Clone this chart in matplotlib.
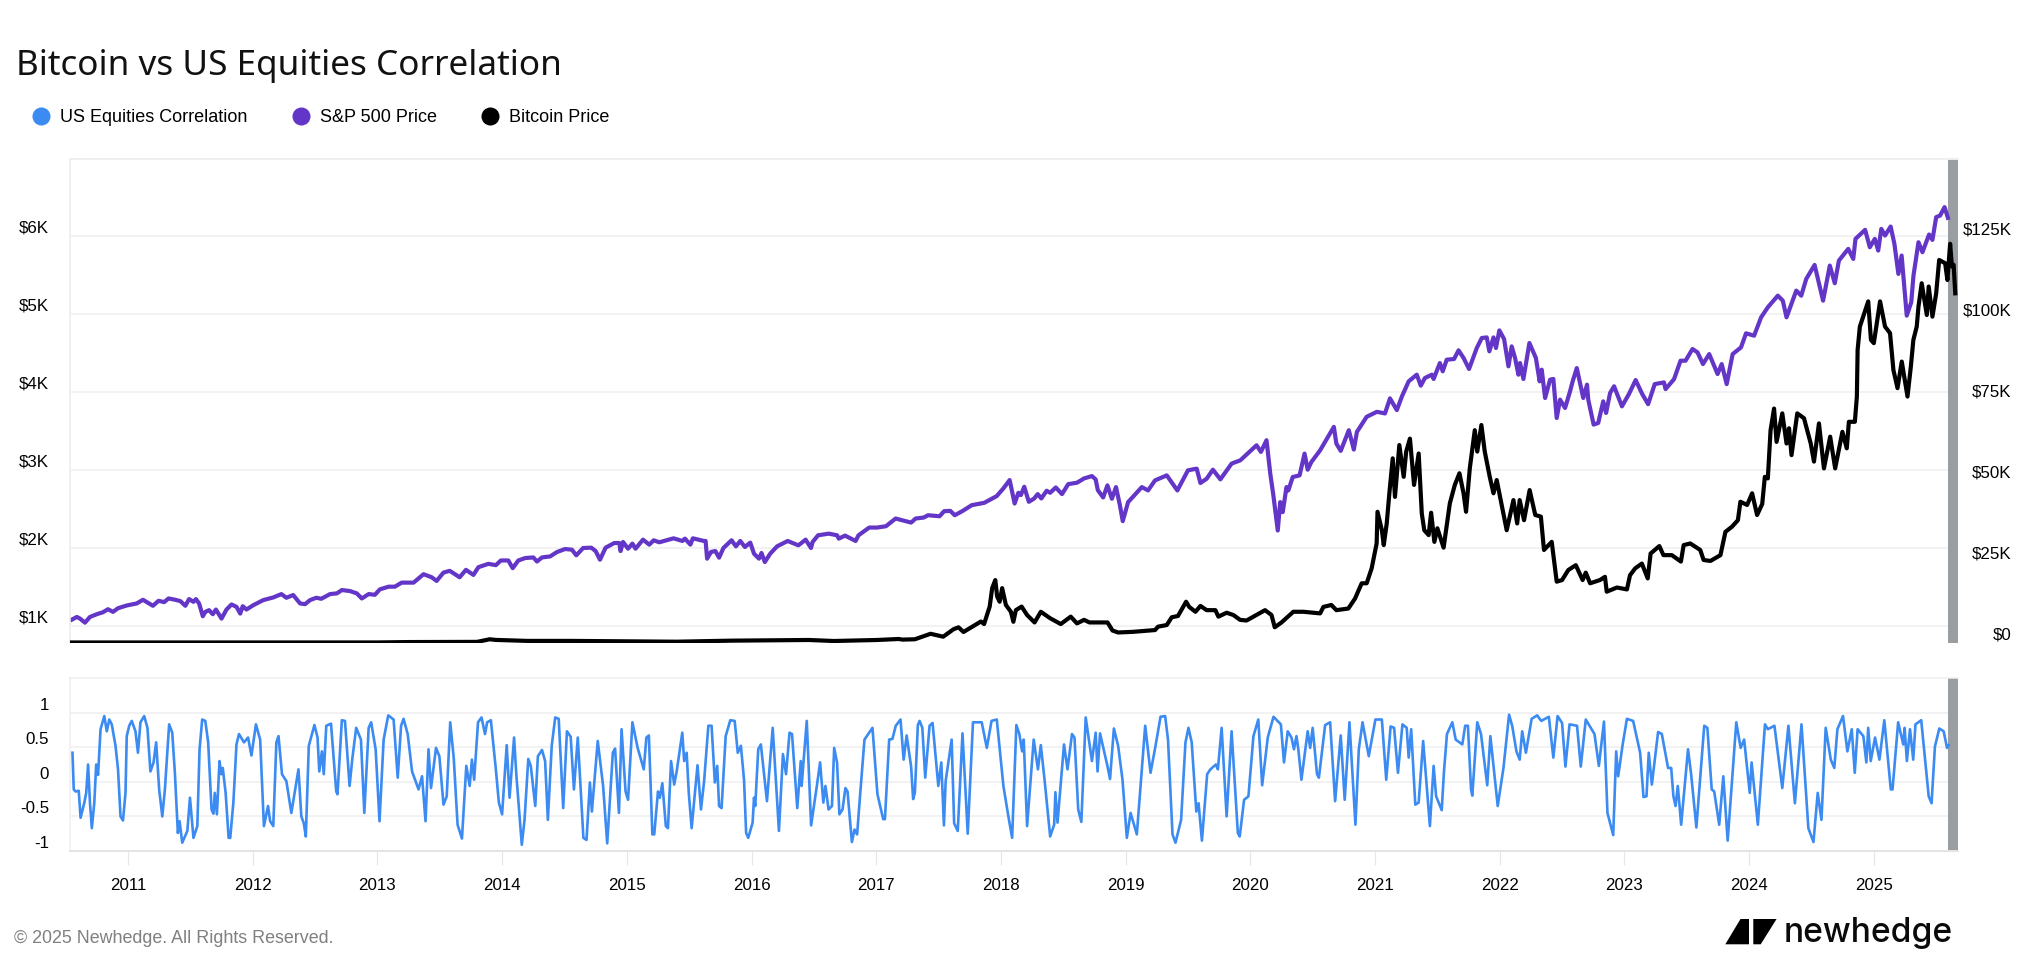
import matplotlib
matplotlib.use('Agg')
import matplotlib.pyplot as plt
from matplotlib.lines import Line2D
from matplotlib.patches import Polygon

W, H = 2025, 975

sp500 = [(2010.55,1082),(2010.59,1116),(2010.615,1095),(2010.655,1043),(2010.695,1116),(2010.75,1151),(2010.80,1177),(2010.84,1215),(2010.88,1181),(2010.92,1228),(2010.99,1263),
(2011.07,1289),(2011.12,1336),(2011.20,1259),(2011.245,1323),(2011.29,1306),(2011.325,1353),(2011.38,1336),(2011.42,1319),(2011.46,1259),(2011.49,1345),(2011.525,1310),(2011.545,1345),(2011.57,1289),(2011.60,1125),(2011.62,1181),(2011.65,1203),(2011.68,1151),(2011.705,1211),(2011.75,1095),(2011.79,1211),(2011.83,1276),(2011.87,1246),(2011.90,1159),(2011.92,1254),(2011.95,1211),
(2012.005,1267),(2012.085,1332),(2012.165,1366),(2012.23,1409),(2012.27,1362),(2012.325,1397),(2012.38,1289),(2012.42,1280),(2012.46,1332),(2012.51,1362),(2012.55,1349),(2012.62,1409),(2012.675,1418),(2012.715,1461),(2012.78,1448),(2012.835,1418),(2012.875,1353),(2012.93,1409),(2012.98,1400),
(2013.02,1470),(2013.09,1504),(2013.14,1504),(2013.195,1556),(2013.29,1556),(2013.37,1664),(2013.435,1625),(2013.475,1578),(2013.53,1685),(2013.58,1707),(2013.66,1625),(2013.71,1720),(2013.77,1655),(2013.81,1754),(2013.89,1797),(2013.95,1780),(2013.99,1840),
(2014.05,1840),(2014.085,1741),(2014.13,1840),(2014.185,1871),(2014.25,1879),(2014.28,1827),(2014.32,1879),(2014.385,1892),(2014.44,1948),(2014.505,1987),(2014.56,1978),(2014.595,1906),(2014.65,2000),(2014.715,2004),(2014.75,1961),(2014.785,1850),(2014.83,2004),(2014.90,2064),(2014.94,2064),(2014.95,1961),(2014.97,2077),
(2015.01,1991),(2015.045,2056),(2015.07,1991),(2015.13,2107),(2015.18,2043),(2015.216,2099),(2015.26,2073),(2015.375,2124),(2015.446,2090),(2015.466,2120),(2015.51,2043),(2015.53,2124),(2015.618,2090),(2015.632,2090),(2015.644,1863),(2015.675,1949),(2015.71,1961),(2015.74,1876),(2015.775,2000),(2015.84,2099),(2015.875,2021),(2015.91,2090),(2015.947,2013),(2015.99,2069),
(2016.02,1927),(2016.06,1863),(2016.08,1936),(2016.107,1820),(2016.15,1927),(2016.205,2021),(2016.29,2090),(2016.376,2034),(2016.434,2107),(2016.477,2000),(2016.49,2077),(2016.534,2163),(2016.62,2184),(2016.686,2163),(2016.70,2120),(2016.75,2159),(2016.835,2090),(2016.858,2163),(2016.944,2262),
(2017.007,2262),(2017.078,2279),(2017.156,2378),(2017.207,2356),(2017.28,2326),(2017.316,2378),(2017.38,2390),(2017.416,2420),(2017.508,2407),(2017.545,2472),(2017.594,2476),(2017.63,2420),(2017.694,2476),(2017.766,2549),(2017.866,2579),(2017.966,2665),
(2018.02,2764),(2018.07,2871),(2018.11,2570),(2018.14,2708),(2018.16,2678),(2018.187,2785),(2018.224,2592),(2018.267,2635),(2018.295,2691),(2018.324,2635),(2018.367,2734),(2018.395,2708),(2018.44,2776),(2018.49,2691),(2018.54,2819),(2018.61,2837),(2018.667,2892),(2018.73,2922),(2018.76,2879),(2018.777,2742),(2018.82,2648),(2018.854,2803),(2018.89,2631),(2018.923,2781),(2018.954,2549),(2018.977,2344),
(2019.02,2588),(2019.13,2781),(2019.18,2738),(2019.236,2867),(2019.33,2931),(2019.415,2738),(2019.50,2996),(2019.57,3017),(2019.60,2833),(2019.65,2888),(2019.70,3004),(2019.76,2880),(2019.85,3082),(2019.92,3124),
(2020.05,3317),(2020.085,3232),(2020.13,3382),(2020.16,2953),(2020.185,2674),(2020.20,2481),(2020.22,2224),(2020.24,2588),(2020.26,2460),(2020.29,2781),(2020.305,2738),(2020.34,2910),(2020.395,2931),(2020.435,3210),(2020.46,3004),(2020.49,3103),(2020.56,3253),(2020.67,3553),(2020.69,3339),(2020.725,3245),(2020.79,3510),(2020.83,3262),(2020.855,3489),(2020.933,3682),
(2021.015,3746),(2021.08,3725),(2021.12,3918),(2021.175,3768),(2021.215,3940),(2021.27,4137),(2021.335,4222),(2021.367,4081),(2021.40,4179),(2021.455,4222),(2021.47,4167),(2021.52,4371),(2021.543,4265),(2021.575,4414),(2021.634,4423),(2021.67,4534),(2021.71,4436),(2021.754,4295),(2021.816,4564),(2021.856,4692),(2021.896,4700),(2021.917,4521),(2021.95,4700),(2021.97,4564),(2021.997,4790),
(2022.035,4679),(2022.07,4329),(2022.096,4585),(2022.123,4436),(2022.15,4222),(2022.163,4371),(2022.19,4167),(2022.238,4628),(2022.29,4436),(2022.32,4137),(2022.337,4286),(2022.364,3923),(2022.404,4158),(2022.43,4167),(2022.457,3667),(2022.484,3902),(2022.524,3795),(2022.564,4009),(2022.585,4137),(2022.618,4307),(2022.67,3923),(2022.70,4094),(2022.71,3902),(2022.753,3582),(2022.79,3603),(2022.83,3880),(2022.853,3731),(2022.885,3987),(2022.917,4073),(2022.98,3816),
(2023.036,3973),(2023.09,4153),(2023.143,3973),(2023.19,3844),(2023.243,4101),(2023.317,4123),(2023.33,4037),(2023.398,4165),(2023.45,4401),(2023.49,4401),(2023.546,4551),(2023.586,4508),(2023.63,4358),(2023.68,4486),(2023.747,4230),(2023.78,4358),(2023.82,4101),(2023.868,4486),(2023.935,4572),(2023.975,4752),
(2024.04,4722),(2024.096,4957),(2024.15,5086),(2024.23,5235),(2024.27,5171),(2024.30,4957),(2024.378,5300),(2024.418,5235),(2024.458,5449),(2024.525,5629),(2024.593,5171),(2024.647,5621),(2024.687,5394),(2024.72,5685),(2024.795,5835),(2024.835,5706),(2024.853,5963),(2024.93,6079),(2024.968,5856),
(2025.008,5963),(2025.035,5813),(2025.06,6091),(2025.09,6006),(2025.135,6121),(2025.165,5899),(2025.197,5514),(2025.223,5749),(2025.264,4979),(2025.30,5150),(2025.318,5492),(2025.358,5920),(2025.39,5792),(2025.443,6019),(2025.47,5950),(2025.50,6241),(2025.532,6263),(2025.567,6370),(2025.594,6233)]

# bitcoin in thousands of dollars
btc = [(2010.54,0.01),(2012.0,0.01),(2013.0,0.02),(2013.25,0.14),(2013.8,0.2),(2013.9,1.0),(2013.95,0.8),(2014.2,0.5),(2014.544,0.5),(2015.4,0.25),(2015.83,0.57),(2016.46,0.78),(2016.66,0.47),(2017.007,0.78),(2017.18,1.09),(2017.21,0.9),(2017.31,1.0),(2017.436,2.7),(2017.537,1.8),(2017.62,4.1),(2017.66,4.7),(2017.70,3.25),(2017.78,5.1),(2017.84,6.5),(2017.865,5.7),(2017.91,11.1),(2017.93,16.8),(2017.955,19.3),(2017.97,14.2),(2017.99,12.6),
(2018.01,16.8),(2018.04,11.6),(2018.08,9.5),(2018.10,6.4),(2018.12,10),(2018.166,11.1),(2018.21,8.5),(2018.27,6.2),(2018.32,9.5),(2018.395,7.5),(2018.48,5.7),(2018.56,8),(2018.61,5.9),(2018.667,7),(2018.71,6.2),(2018.855,6.2),(2018.895,3.7),(2018.94,3.1),
(2019.06,3.3),(2019.236,3.85),(2019.26,4.9),(2019.33,5.4),(2019.37,7.8),(2019.42,8.2),(2019.485,12.6),(2019.51,11),(2019.56,9.5),(2019.6,11.3),(2019.65,10),(2019.72,10),(2019.744,8),(2019.81,9.2),(2019.864,8.5),(2019.918,7),(2019.97,6.8),
(2020.118,10),(2020.17,8.5),(2020.196,4.7),(2020.25,6.2),(2020.345,9.5),(2020.426,9.5),(2020.56,9),(2020.586,11),(2020.65,11.6),(2020.69,10),(2020.786,10.5),(2020.84,13.6),(2020.893,18.3),(2020.933,18.3),(2020.973,22.9),
(2021.013,30.6),(2021.02,40.4),(2021.055,34.7),(2021.07,30.1),(2021.094,36.8),(2021.115,46.1),(2021.142,56.9),(2021.16,45),(2021.195,61),(2021.23,51.2),(2021.25,59),(2021.28,63),(2021.313,48.7),(2021.35,58.4),(2021.375,39.9),(2021.395,34.7),(2021.43,33.2),(2021.45,40.1),(2021.476,31.1),(2021.5,35.3),(2021.55,29.3),(2021.6,43),(2021.64,48.7),(2021.677,52.3),(2021.71,46.1),(2021.73,40.4),(2021.76,53.8),(2021.80,65.6),(2021.82,59),(2021.853,67.2),(2021.88,59),(2021.92,51.2),(2021.95,46.1),(2021.976,50.2),
(2022.016,42.5),(2022.056,34.7),(2022.11,44),(2022.14,36.8),(2022.16,44),(2022.195,37.8),(2022.24,47.1),(2022.285,39.4),(2022.33,38.9),(2022.355,28.6),(2022.417,31.1),(2022.457,18.8),(2022.5,19.3),(2022.55,22.4),(2022.61,23.9),(2022.665,19.3),(2022.69,21.6),(2022.725,18.3),(2022.804,19.3),(2022.844,20.3),(2022.858,15.7),(2022.94,17),
(2023.02,16.4),(2023.045,20.8),(2023.086,22.9),(2023.14,24.4),(2023.187,19.8),(2023.21,27.5),(2023.28,29.8),(2023.313,27),(2023.38,27),(2023.453,25),(2023.475,30.1),(2023.528,30.6),(2023.608,28.6),(2023.635,25.5),(2023.69,25.2),(2023.77,27),(2023.81,34.2),(2023.863,35.8),(2023.91,37.8),(2023.93,43.5),(2023.984,42.5),
(2024.024,46.1),(2024.064,39.4),(2024.105,42.8),(2024.126,51.2),(2024.15,50.7),(2024.172,65.6),(2024.2,72.3),(2024.22,62),(2024.266,70.8),(2024.3,61.5),(2024.32,66.2),(2024.34,57.9),(2024.386,70.8),(2024.44,69.3),(2024.494,61.5),(2024.52,55.9),(2024.56,67.7),(2024.6,53.8),(2024.65,63.6),(2024.69,53.8),(2024.748,65.1),(2024.783,60),(2024.8,68.2),(2024.848,68.2),(2024.864,76),(2024.87,90.4),(2024.888,97.6),(2024.955,105.4),(2024.977,93.5),
(2025.0,92.5),(2025.05,105.4),(2025.09,97.6),(2025.13,95.6),(2025.157,84.2),(2025.19,78.6),(2025.224,86.8),(2025.27,76),(2025.297,85.3),(2025.317,93.5),(2025.344,97.6),(2025.358,103.8),(2025.384,111),(2025.425,101.2),(2025.44,110),(2025.47,100.7),(2025.5,107.9),(2025.524,118.2),(2025.572,117.2),(2025.59,112),(2025.612,123.2),(2025.626,116.2),(2025.64,116.7),(2025.653,107.9)]

corr = [(2010.555,.42),(2010.565,-.11),(2010.58,-.14),(2010.605,-.13),(2010.62,-.52),(2010.65,-.30),(2010.665,-.16),(2010.68,.25),(2010.695,-.30),(2010.71,-.67),(2010.73,-.30),(2010.745,.25),(2010.76,.10),(2010.78,.76),(2010.81,.95),(2010.83,.73),(2010.85,.90),(2010.87,.83),(2010.9,.52),(2010.92,.18),(2010.94,-.50),(2010.96,-.56),(2010.98,-.16),(2010.99,.66),
(2011.01,.81),(2011.03,.88),(2011.06,.73),(2011.08,.42),(2011.10,.86),(2011.13,.95),(2011.156,.78),(2011.18,.15),(2011.205,.28),(2011.226,.57),(2011.25,-.11),(2011.275,-.50),(2011.296,-.11),(2011.33,.83),(2011.355,.71),(2011.376,.13),(2011.40,-.74),(2011.414,-.57),(2011.435,-.88),(2011.476,-.71),(2011.497,-.23),(2011.525,-.81),(2011.556,-.64),(2011.574,.47),(2011.595,.90),(2011.62,.88),(2011.643,.57),(2011.67,-.40),(2011.685,-.46),(2011.696,-.16),(2011.713,-.47),(2011.734,.30),(2011.748,.11),(2011.76,.20),(2011.783,-.16),(2011.807,-.81),(2011.82,-.81),(2011.845,-.30),(2011.87,.54),(2011.89,.69),(2011.93,.57),(2011.963,.64),(2011.99,.38),
(2012.026,.83),(2012.06,.61),(2012.09,-.64),(2012.123,-.35),(2012.14,-.57),(2012.165,-.64),(2012.19,.57),(2012.207,.66),(2012.235,.11),(2012.27,.01),(2012.31,-.45),(2012.367,.18),(2012.39,-.50),(2012.41,-.60),(2012.426,-.79),(2012.45,.52),(2012.495,.82),(2012.52,.64),(2012.534,.15),(2012.555,.44),(2012.57,.11),(2012.59,.81),(2012.628,.84),(2012.67,-.14),(2012.68,-.18),(2012.715,.89),(2012.74,.88),(2012.777,-.06),(2012.8,.35),(2012.83,.78),(2012.868,.61),(2012.895,-.45),(2012.93,.78),(2012.95,.86),(2012.986,.47),
(2013.017,-.57),(2013.05,.61),(2013.087,.96),(2013.13,.90),(2013.163,.06),(2013.19,.81),(2013.21,.91),(2013.243,.69),(2013.278,.15),(2013.33,-.11),(2013.358,.08),(2013.386,-.57),(2013.41,.47),(2013.43,-.09),(2013.47,.49),(2013.497,.37),(2013.53,-.33),(2013.556,-.21),(2013.584,.86),(2013.612,.35),(2013.643,-.62),(2013.678,-.82),(2013.713,.23),(2013.74,-.06),(2013.758,.32),(2013.776,.03),(2013.807,.86),(2013.835,.93),(2013.863,.69),(2013.88,.86),(2013.91,.89),(2013.95,.18),(2013.974,-.30),
(2014.0,-.47),(2014.037,.53),(2014.06,-.23),(2014.096,.64),(2014.115,.08),(2014.158,-.91),(2014.18,-.55),(2014.21,.33),(2014.23,.23),(2014.266,-.35),(2014.287,.37),(2014.32,.46),(2014.345,.30),(2014.367,-.55),(2014.398,.52),(2014.426,.93),(2014.454,.91),(2014.49,-.38),(2014.52,.73),(2014.55,.65),(2014.576,-.11),(2014.607,.64),(2014.652,-.81),(2014.677,-.84),(2014.704,-.01),(2014.72,-.43),(2014.767,.59),(2014.81,-.06),(2014.843,-.89),(2014.888,.42),(2014.906,.48),(2014.937,-.45),(2014.958,.76),(2014.99,-.14),
(2015.01,-.26),(2015.045,.86),(2015.087,.49),(2015.136,.18),(2015.157,.64),(2015.177,.67),(2015.205,-.76),(2015.22,-.76),(2015.25,-.14),(2015.265,-.23),(2015.285,-.02),(2015.313,-.64),(2015.33,-.67),(2015.355,.30),(2015.38,-.04),(2015.4,.15),(2015.445,.71),(2015.46,.30),(2015.48,.42),(2015.497,-.16),(2015.52,-.67),(2015.567,.24),(2015.595,-.40),(2015.62,.01),(2015.654,.81),(2015.68,.81),(2015.706,-.01),(2015.725,.23),(2015.74,-.35),(2015.76,-.38),(2015.793,.66),(2015.83,.89),(2015.865,.88),(2015.89,.42),(2015.915,.52),(2015.94,.03),(2015.957,-.74),(2015.974,-.81),
(2016.009,-.59),(2016.02,-.23),(2016.03,-.35),(2016.054,.47),(2016.075,.54),(2016.124,-.28),(2016.17,.78),(2016.22,-.71),(2016.252,.40),(2016.277,.11),(2016.305,.71),(2016.325,.69),(2016.367,-.38),(2016.395,.30),(2016.402,-.06),(2016.443,.88),(2016.478,-.63),(2016.524,-.06),(2016.55,.28),(2016.576,-.30),(2016.593,-.06),(2016.618,-.40),(2016.645,-.35),(2016.663,.49),(2016.686,.28),(2016.705,-.47),(2016.73,-.40),(2016.753,-.09),(2016.77,-.14),(2016.805,-.87),(2016.826,-.69),(2016.847,-.76),(2016.87,-.21),(2016.906,.61),(2016.97,.78),
(2017.01,-.18),(2017.056,-.54),(2017.07,-.54),(2017.104,.61),(2017.13,.62),(2017.157,.81),(2017.195,.90),(2017.22,.32),(2017.244,.67),(2017.28,.22),(2017.296,-.25),(2017.31,-.16),(2017.334,.82),(2017.348,.88),(2017.37,.78),(2017.393,.06),(2017.428,.81),(2017.452,.85),(2017.498,-.06),(2017.522,.28),(2017.543,-.63),(2017.557,.01),(2017.605,.61),(2017.625,-.60),(2017.654,-.71),(2017.692,.70),(2017.734,-.75),(2017.776,.86),(2017.846,.86),(2017.887,.49),(2017.925,.88),(2017.967,.90),
(2018.02,-.06),(2018.06,-.50),(2018.09,-.81),(2018.124,.82),(2018.148,.69),(2018.17,.44),(2018.183,.61),(2018.21,-.64),(2018.263,.61),(2018.297,.18),(2018.32,.53),(2018.35,.03),(2018.395,-.79),(2018.427,-.62),(2018.437,-.15),(2018.454,-.59),(2018.506,.54),(2018.534,.18),(2018.57,.69),(2018.59,.64),(2018.62,-.40),(2018.645,-.58),(2018.68,.93),(2018.73,.30),(2018.76,.71),(2018.775,.15),(2018.795,.70),(2018.854,.23),(2018.875,.04),(2018.906,.77),(2018.94,.52),(2018.975,.03),
(2019.01,-.81),(2019.04,-.45),(2019.09,-.76),(2019.157,.81),(2019.2,.13),(2019.237,.49),(2019.28,.94),(2019.317,.95),(2019.34,.61),(2019.376,-.76),(2019.40,-.88),(2019.445,-.55),(2019.48,.57),(2019.504,.78),(2019.53,.57),(2019.567,-.43),(2019.585,-.31),(2019.612,-.85),(2019.654,.11),(2019.68,.18),(2019.724,.25),(2019.74,.18),(2019.77,.78),(2019.81,-.50),(2019.85,.73),(2019.90,-.74),(2019.915,-.79),(2019.95,-.26),(2019.985,-.21),
(2020.025,.66),(2020.064,.90),(2020.095,-.05),(2020.14,.64),(2020.186,.94),(2020.245,.83),(2020.27,.28),(2020.3,.73),(2020.33,.64),(2020.35,.47),(2020.37,.66),(2020.385,.47),(2020.41,.03),(2020.46,.73),(2020.48,.49),(2020.5,.78),(2020.535,.11),(2020.55,.06),(2020.6,.82),(2020.64,.86),(2020.68,-.28),(2020.725,.67),(2020.757,-.26),(2020.795,.86),(2020.843,-.62),(2020.87,.47),(2020.9,.86),(2020.95,.37),
(2021.003,.90),(2021.055,.90),(2021.09,.03),(2021.125,.80),(2021.153,.78),(2021.184,.13),(2021.22,.83),(2021.254,.78),(2021.27,.35),(2021.29,.76),(2021.323,-.33),(2021.35,-.30),(2021.386,.59),(2021.44,-.64),(2021.47,.23),(2021.49,-.21),(2021.535,-.41),(2021.553,.15),(2021.577,.69),(2021.62,.86),(2021.647,.61),(2021.70,.54),(2021.723,.81),(2021.745,.81),(2021.77,-.11),(2021.78,-.20),(2021.82,.86),(2021.85,.69),(2021.90,-.05),(2021.925,.66),(2021.984,-.35),
(2022.03,.20),(2022.075,.97),(2022.1,.81),(2022.134,.44),(2022.16,.32),(2022.18,.73),(2022.21,.42),(2022.256,.91),(2022.30,.96),(2022.333,.88),(2022.394,.94),(2022.43,.35),(2022.464,.95),(2022.5,.85),(2022.527,.22),(2022.56,.83),(2022.62,.81),(2022.65,.22),(2022.69,.90),(2022.76,.69),(2022.795,.23),(2022.836,.87),(2022.864,-.45),(2022.91,-.77),(2022.934,.44),(2022.95,.08),(2022.986,.54),
(2023.02,.91),(2023.07,.88),(2023.126,.42),(2023.153,-.22),(2023.177,-.21),(2023.195,.42),(2023.22,-.04),(2023.27,.72),(2023.3,.69),(2023.35,.20),(2023.375,.20),(2023.393,-.21),(2023.41,-.35),(2023.428,-.06),(2023.455,-.62),(2023.51,.47),(2023.535,.11),(2023.577,-.66),(2023.64,.81),(2023.665,.78),(2023.70,-.11),(2023.72,-.14),(2023.76,-.62),(2023.793,.08),(2023.828,-.85),(2023.897,.86),(2023.932,.49),(2023.96,.61),
(2024.005,-.16),(2024.02,.28),(2024.07,-.62),(2024.127,.83),(2024.15,.76),(2024.203,.81),(2024.266,-.09),(2024.315,.81),(2024.367,-.31),(2024.42,.83),(2024.475,-.67),(2024.516,-.87),(2024.55,-.16),(2024.58,-.55),(2024.614,.78),(2024.655,.32),(2024.683,.20),(2024.708,.76),(2024.753,.95),(2024.788,.44),(2024.823,.76),(2024.847,.13),(2024.87,.76),(2024.916,.66),(2024.94,.28),(2024.955,.78),(2024.975,.30),
(2025.01,.64),(2025.045,.32),(2025.084,.89),(2025.136,-.11),(2025.15,-.11),(2025.195,.86),(2025.236,.54),(2025.247,.78),(2025.265,.30),(2025.29,.76),(2025.316,.32),(2025.334,.83),(2025.38,.89),(2025.44,-.21),(2025.463,-.31),(2025.49,.51),(2025.525,.77),(2025.56,.73),(2025.587,.49),(2025.6,.53)]

blue = '#3b8bf2'
purple = '#6336c8'
grid = '#efefef'
plt.rcParams['font.family'] = ['Liberation Sans', 'DejaVu Sans']
plt.rcParams['font.size'] = 12.2


def axes_px(left, top, right, bottom):
    return [left / W, 1 - bottom / H, (right - left) / W, (bottom - top) / H]


fig = plt.figure(figsize=(W / 100, H / 100), dpi=100)
ax = fig.add_axes(axes_px(70, 159, 1958, 643))
ax_btc = ax.twinx()
ax_corr = fig.add_axes(axes_px(70, 678, 1958, 851))

x_range = (2010.535, 2025.675)

ax.plot(*zip(*sp500), color=purple, lw=3.0, solid_joinstyle='round', zorder=3)
ax.set_xlim(x_range)
ax.set_ylim(782, 6987)
ax.set_yticks([1000, 2000, 3000, 4000, 5000, 6000])
ax.set_yticklabels(['$1K', '$2K', '$3K', '$4K', '$5K', '$6K'])
ax.set_xticks([])
ax.grid(axis='y', color=grid, lw=1.1)
ax.set_axisbelow(True)
ax.axvspan(2025.594, 2025.675, color='#9a9da2', lw=0, zorder=2)
ax.tick_params(axis='y', length=0, pad=15.2)
for lab in ax.get_yticklabels():
    lab.set_va('bottom')

ax_btc.plot(*zip(*btc), color='black', lw=3.0, solid_joinstyle='round', zorder=4)
ax_btc.set_ylim(-0.15, 149.4)
ax_btc.set_yticks([0, 25, 50, 75, 100, 125])
ax_btc.set_yticklabels(['$0', '$25K', '$50K', '$75K', '$100K', '$125K'])
ax_btc.tick_params(axis='y', length=0, pad=38.6)
for lab in ax_btc.get_yticklabels():
    lab.set_ha('right')
    lab.set_va('bottom')

ax_corr.plot(*zip(*corr), color=blue, lw=1.9, solid_joinstyle='round', zorder=3)
ax_corr.set_xlim(x_range)
ax_corr.set_ylim(-1, 1.5)
ax_corr.set_yticks([-1, -0.5, 0, 0.5, 1])
ax_corr.set_yticklabels(['-1', '-0.5', '0', '0.5', '1'])
ax_corr.set_xticks(range(2011, 2026))
ax_corr.grid(axis='y', color=grid, lw=1.1)
ax_corr.set_axisbelow(True)
ax_corr.axvspan(2025.594, 2025.675, color='#9a9da2', lw=0, zorder=2)
ax_corr.tick_params(axis='y', length=0, pad=15.2)
ax_corr.tick_params(axis='x', length=10, width=0.8, color='#e6e6e6', pad=9.5)
for lab in ax_corr.get_yticklabels():
    lab.set_va('bottom')

for a in (ax, ax_btc, ax_corr):
    for side in ('right', 'bottom'):
        a.spines[side].set_visible(False)
    a.spines['left'].set_color(grid)
    a.spines['left'].set_linewidth(1.1)
    a.spines['top'].set_color(grid)
    a.spines['top'].set_linewidth(1.1)
ax_corr.spines['bottom'].set_visible(True)
ax_corr.spines['bottom'].set_color('#e4e4e4')
ax_corr.spines['bottom'].set_linewidth(1.4)

fig.text(16.5 / W, 1 - 75 / H, 'Bitcoin vs US Equities Correlation', fontsize=25.3,
         family=['Noto Sans', 'DejaVu Sans'], color='#111111', va='baseline')

handles = [Line2D([], [], ls='', marker='o', ms=13, mew=0, color=c, label=t)
           for c, t in [(blue, 'US Equities Correlation'), (purple, 'S&P 500 Price'), ('black', 'Bitcoin Price')]]
fig.legend(handles=handles, ncol=3, frameon=False, loc='center left', fontsize=13,
           bbox_to_anchor=(32 / W, 1 - 117.5 / H), borderpad=0, borderaxespad=0,
           handlelength=1, handletextpad=0.55, columnspacing=2.45)

fig.text(14 / W, 1 - 943 / H, '© 2025 Newhedge. All Rights Reserved.', color='#808080',
         fontsize=12.9, va='baseline')

# logo
for pts in ([(1725.3, 944.3), (1740.5, 919), (1749, 919), (1749, 944.3)],
            [(1753.3, 919), (1776.6, 919), (1760.7, 944.3), (1753.3, 944.3)]):
    fig.add_artist(Polygon([(x / W, 1 - y / H) for x, y in pts], closed=True, fc='black', ec='none',
                           transform=fig.transFigure))
fig.text(1784 / W, 1 - 942.3 / H, 'newhedge', family=['Inter', 'DejaVu Sans'], fontsize=24.2,
         weight='medium', color='#0a0a0a', va='baseline')

plt.savefig('out.png', dpi=100)
